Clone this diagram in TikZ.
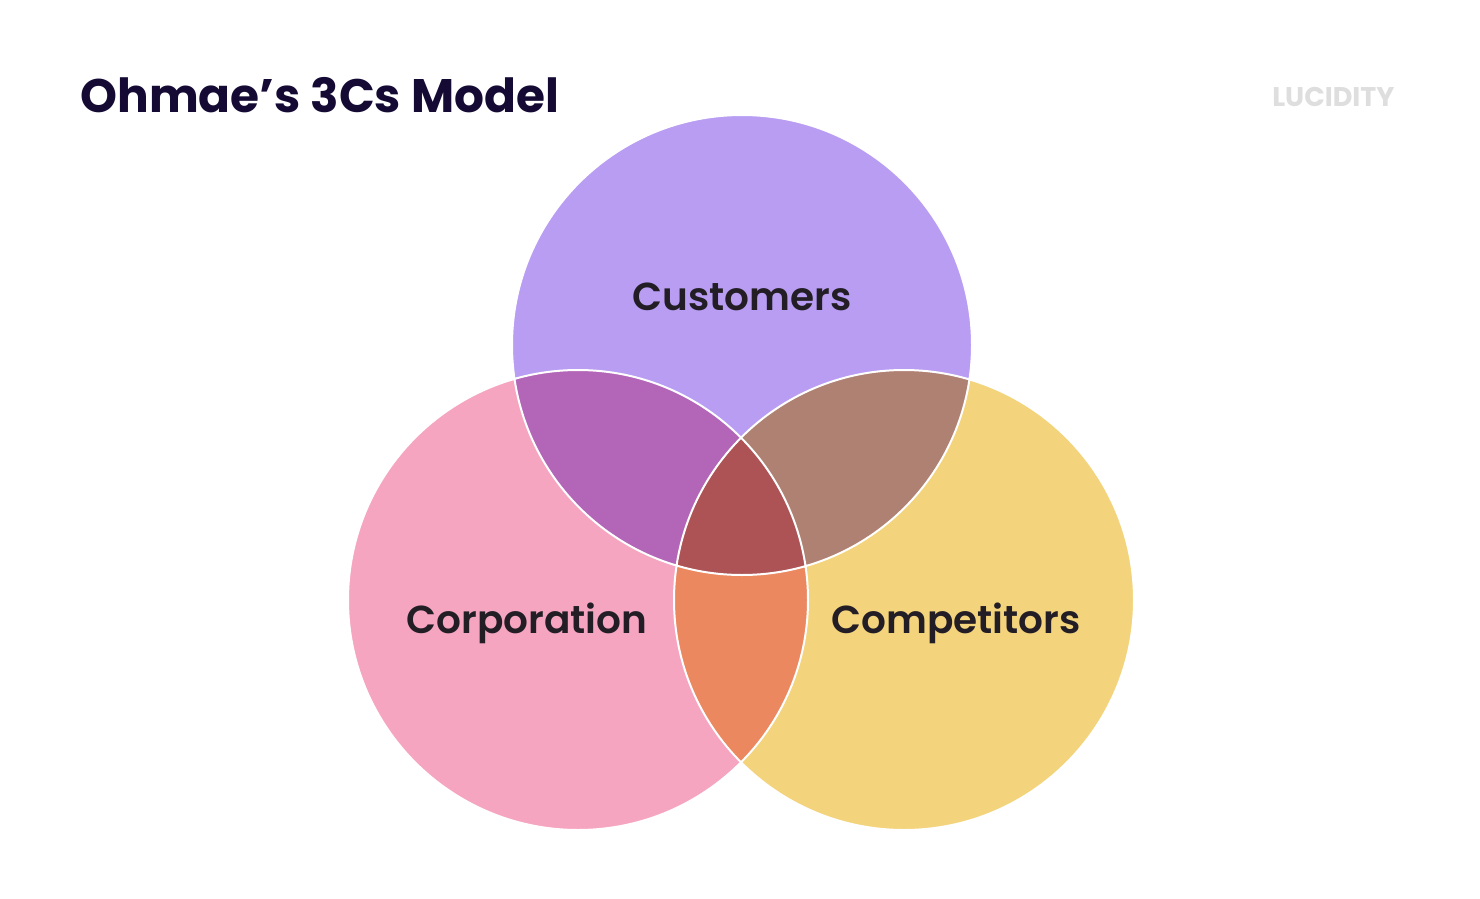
\documentclass[tikz,border=0pt]{standalone}
\usepackage{fontspec}
\setmainfont{Poppins}[UprightFont=* SemiBold, BoldFont=* Bold]
\begin{document}
\begin{tikzpicture}[x=1pt,y=-1pt,
  lbl/.style={font=\fontsize{39}{40}\selectfont}]
\definecolor{cu}{HTML}{B89DF3}\definecolor{co}{HTML}{F6A5C0}\definecolor{cp}{HTML}{F3D37C}
\definecolor{tl}{HTML}{B366B7}\definecolor{tr}{HTML}{AF8172}\definecolor{lr}{HTML}{EB885F}
\definecolor{ce}{HTML}{AD5356}\definecolor{ttl}{HTML}{140A33}\definecolor{lab}{HTML}{231E25}
\useasboundingbox[fill=white] (0,0) rectangle (1480,899);
\coordinate (T) at (742,345); \coordinate (L) at (578,600); \coordinate (R) at (904,600);
\def\r{230}
\fill[cu] (T) circle (\r); \fill[co] (L) circle (\r); \fill[cp] (R) circle (\r);
\begin{scope}\clip (T) circle (\r); \fill[tl] (L) circle (\r); \end{scope}
\begin{scope}\clip (T) circle (\r); \fill[tr] (R) circle (\r); \end{scope}
\begin{scope}\clip (L) circle (\r); \fill[lr] (R) circle (\r); \end{scope}
\begin{scope}\clip (T) circle (\r); \clip (L) circle (\r); \fill[ce] (R) circle (\r); \end{scope}
\draw[white,line width=2] (T) circle (\r) (L) circle (\r) (R) circle (\r);
\node[anchor=west,font=\fontsize{47}{50}\selectfont\bfseries,text=ttl] (title) at (77,95) {Ohmae’s 3Cs Model};
\node[anchor=east,font=\fontsize{27}{28}\selectfont\bfseries,text=black!13] (logo) at (1398,97) {LUCIDITY};
\node[lbl,text=lab] (cus) at (742,297) {Customers};
\node[lbl,text=lab] (cor) at (527,623) {Corporation};
\node[lbl,text=lab] (com) at (956,623) {Competitors};
\end{tikzpicture}
\end{document}
